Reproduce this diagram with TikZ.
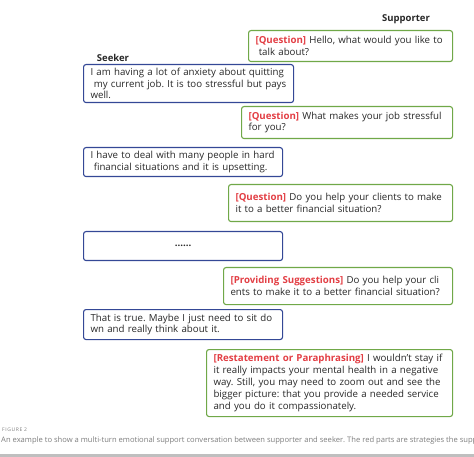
\documentclass[tikz,border=0pt]{standalone}
\usepackage{fontspec}
\setmainfont{Open Sans}
\definecolor{sgreen}{RGB}{112,168,72}
\definecolor{sblue}{RGB}{52,72,150}
\definecolor{sred}{RGB}{226,62,68}
\definecolor{stext}{RGB}{40,40,40}
\definecolor{scap}{RGB}{125,125,125}
\tikzset{
  bubble/.style={draw, line width=1.1pt, rounded corners=2.5pt, anchor=north west,
    align=left, inner xsep=7pt, inner ysep=2pt, text=stext,
    font=\fontsize{9.7}{11.8}\selectfont},
  sup/.style={bubble, draw=sgreen},
  seek/.style={bubble, draw=sblue},
  who/.style={font=\fontsize{9.5}{11}\selectfont\bfseries, text=stext},
}
\newcommand{\strat}[1]{\textcolor{sred}{\textbf{#1}}}
\frenchspacing
\begin{document}
\begin{tikzpicture}[x=1pt,y=-1pt]
\useasboundingbox (0,0) rectangle (474,457);
\node[who] (suplab) at (406,19) {Supporter};
\node[who] (seeklab) at (113,58) {Seeker};
\node[sup, minimum width=204pt, minimum height=31pt, text width=190pt] (b1) at (248,30)
  {\strat{[Question]} Hello, what would you like to\\ \ talk about?};
\node[seek, minimum width=210pt, minimum height=38pt, text width=196pt] (b2) at (83,64)
  {I am having a lot of anxiety about quitting\\ \ my current job. It is too stressful but pays\\well.};
\node[sup, minimum width=211pt, minimum height=32pt, text width=197pt] (b3) at (241,106)
  {\strat{[Question]} What makes your job stressful\\for you?};
\node[seek, minimum width=199pt, minimum height=29pt, text width=185pt] (b4) at (83,147)
  {I have to deal with many people in hard\\ \ financial situations and it is upsetting.};
\node[sup, minimum width=224pt, minimum height=37pt, text width=210pt] (b5) at (228,184)
  {\strat{[Question]} Do you help your clients to make\\it to a better financial situation?};
\node[seek, minimum width=199pt, minimum height=29pt, text width=185pt, align=center] (b6) at (83,231)
  {\textbf{......}};
\node[sup, minimum width=229pt, minimum height=37pt, text width=215pt] (b7) at (223,267)
  {\strat{[Providing Suggestions]} Do you help your cli\\ents to make it to a better financial situation?};
\node[seek, minimum width=199pt, minimum height=30pt, text width=185pt] (b8) at (83,309)
  {That is true. Maybe I just need to sit do\\wn and really think about it.};
\node[sup, minimum width=246pt, minimum height=67pt, text width=232pt] (b9) at (206,349)
  {\strat{[Restatement or Paraphrasing]} I wouldn't stay if\\it really impacts your mental health in a negative\\way. Still, you may need to zoom out and see the\\bigger picture: that you provide a needed service\\and you do it compassionately.};
\begin{scope}
\clip (0,420) rectangle (474,457);
\node[anchor=west, inner sep=0pt, text=scap, font=\fontsize{5}{6}\selectfont\addfontfeature{LetterSpace=12}] (figlab) at (2,430) {FIGURE 2};
\node[anchor=west, inner sep=0pt, text=scap, font=\fontsize{7.6}{8}\selectfont] (cap) at (1,441)
  {An example to show a multi-turn emotional support conversation between supporter and seeker. The red parts are strategies the supp};
\fill[black!25] (0,454) rectangle (474,457);
\end{scope}
\end{tikzpicture}
\end{document}
